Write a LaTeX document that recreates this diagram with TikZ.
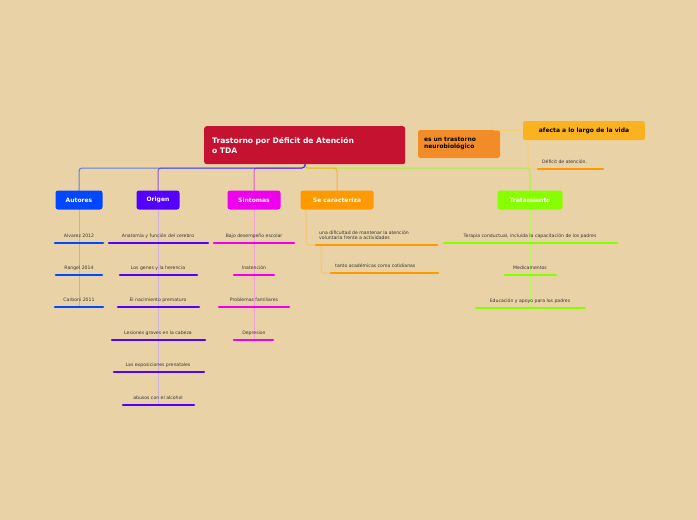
\documentclass[tikz,border=0pt]{standalone}
\usepackage{fontspec}
\setmainfont{DejaVu Sans}
\begin{document}
\begin{tikzpicture}[x=1pt,y=-1pt,
  box/.style={rounded corners=2.5pt,text=white,font=\bfseries\fontsize{6}{7}\selectfont,inner sep=0pt,minimum height=19pt},
  item/.style={font=\fontsize{4.6}{5.5}\selectfont,text=black!80,inner sep=1pt},
  bar/.style={line width=2.6pt,line cap=round},
  con/.style={line width=1pt,rounded corners=3pt,opacity=0.6}]
\definecolor{bg}{HTML}{E9D3A6}
\definecolor{cA}{HTML}{0047FF}\definecolor{cO}{HTML}{5500FF}
\definecolor{cS}{HTML}{EE00EE}\definecolor{cC}{HTML}{FF9900}
\definecolor{cT}{HTML}{88FF00}\definecolor{cR}{HTML}{C41230}
\definecolor{cN}{HTML}{F28C28}\definecolor{cF}{HTML}{FBB220}
\fill[bg] (0,0) rectangle (697,520);
\useasboundingbox (0,0) rectangle (697,520);
% connectors from title
\coordinate (hub) at (305,164);
\foreach \c/\x in {cT/530,cC/337,cS/254,cO/158,cA/79}{
  \draw[con,\c] (hub) -- (305,168) -- (\x,168) -- (\x,191);}
% title
\node[box,fill=cR,minimum width=201pt,minimum height=38pt,anchor=north west,font=\bfseries\fontsize{7.6}{10}\selectfont,align=left,text width=185pt] (t) at (204,126) {Trastorno por Déficit de Atención\\o TDA};
% branch boxes
\node[box,fill=cA,minimum width=47pt] (A) at (79,200) {Autores};
\node[box,fill=cO,minimum width=43pt] (O) at (158,200) {Origen};
\node[box,fill=cS,minimum width=53pt] (S) at (254,200) {Sintomas};
\node[box,fill=cC,minimum width=73pt] (C) at (337,200) {Se caracteriza};
\node[box,fill=cT,minimum width=65pt] (T) at (530,200) {Tratamiento};
% vertical stems
\draw[con,cA!50!white] (A.south) -- (79,307);
\draw[con,cO!40!white] (O.south) -- (158,405);
\draw[con,cS!50!white] (S.south) -- (254,340);
\draw[con,cT!70!white] (T.south) -- (530,308);
% Autores
\foreach \n/\y/\a/\b/\t in {a1/236/55/103/Alvarez 2012,a2/268/56/102/Rangel 2014,a3/300/55/103/Carboni 2011}{
  \node[item] (\n) at (79,\y) {\t}; \draw[bar,cA] (\a,\y+7) -- (\b,\y+7);}
% Origen
\foreach \n/\y/\a/\b/\t in {o1/236/109/208/Anatomía y función del cerebro,o2/268/120/197/Los genes y la herencia,o3/300/118/199/El nacimiento prematuro,o4/333/112/205/Lesiones graves en la cabeza,o5/365/114/204/Las exposiciones prenatales,o6/398/123/194/abusos con el alcohol}{
  \node[item] (\n) at (158,\y) {\t}; \draw[bar,cO] (\a,\y+7) -- (\b,\y+7);}
% Sintomas
\foreach \n/\y/\a/\b/\t in {s1/236/214/294/Bajo desempeño escolar,s2/268/234/274/Inatención,s3/300/219/289/Problemas familiares,s4/333/234/273/Depresion}{
  \node[item] (\n) at (254,\y) {\t}; \draw[bar,cS] (\a,\y+7) -- (\b,\y+7);}
% Se caracteriza
\draw[con,cC!70!white] (306,209) -- (306,245) -- (316,245);
\draw[con,cC!70!white] (321,245) -- (321,273) -- (331,273);
\node[item,anchor=west,align=left] (c1) at (318,235) {una dificultad de mantenar la atención\\voluntaria frente a actividades};
\draw[bar,cC] (316,245) -- (437,245);
\node[item,anchor=west] (c2) at (334,266) {tanto académicas como cotidianas};
\draw[bar,cC] (331,273) -- (438,273);
% Tratamiento
\foreach \n/\y/\a/\b/\t in {t1/236/444/617/{Terapia conductual, incluida la capacitación de los padres},t2/268/505/556/Medicamentos,t3/301/476/585/Educación y apoyo para los padres}{
  \node[item] (\n) at (530,\y) {\t}; \draw[bar,cT] (\a,\y+7) -- (\b,\y+7);}
% floating
\node[box,fill=cN,text=black,minimum width=82pt,minimum height=28pt,align=left,text width=70pt] (N) at (459,144) {es un trastorno\\neurobiológico};
\node[box,fill=cF,text=black,minimum width=122pt] (F) at (584,130.5) {afecta a lo largo de la vida};
\draw[con,cF!70!white] (N.north east) ++(-8,0) |- (F.west);
\draw[con,cF!70!white] (528,140) -- (528,169) -- (538,169);
\node[item,anchor=west] (f1) at (541,162) {Déficit de atención.};
\draw[bar,cC] (538,169) -- (603,169);
\end{tikzpicture}
\end{document}
